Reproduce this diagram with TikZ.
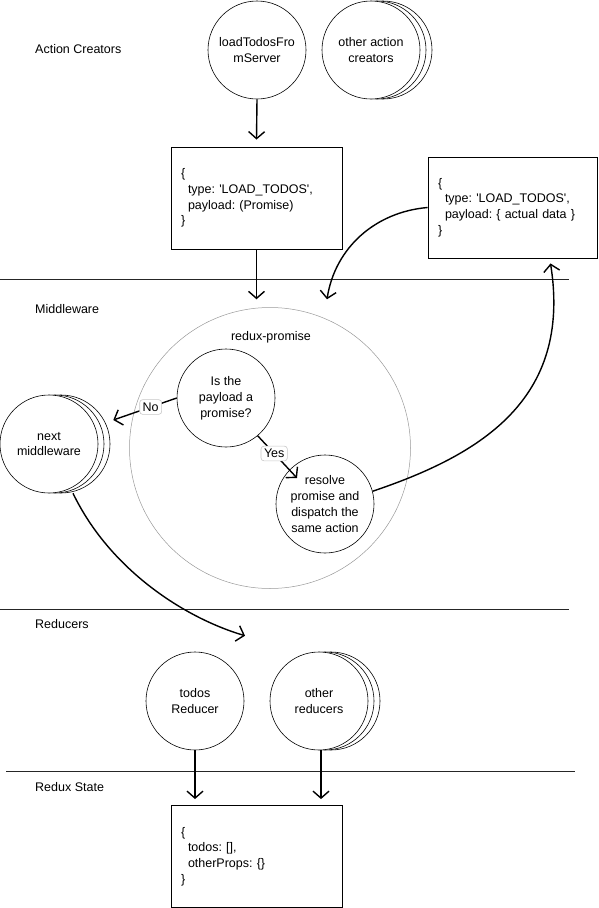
\documentclass[tikz,border=0pt]{standalone}
\usepackage{fontspec}
\setmainfont{Liberation Sans}
\usetikzlibrary{arrows.meta,shadows,calc}
\frenchspacing
\newcommand{\sq}{\textquotesingle}
\begin{document}
\begin{tikzpicture}[x=1pt,y=-1pt,
  font=\fontsize{12.5}{15.8}\selectfont,
  circ/.style={circle,draw,line width=0.6pt,minimum size=98pt,inner sep=0pt,align=center,fill=white},
  stack/.style={circ,double copy shadow={shadow xshift=6pt,shadow yshift=0pt,draw=black,fill=white,line width=0.6pt}},
  codebox/.style={draw,line width=0.9pt,minimum width=171pt,minimum height=102pt,align=left,text width=151pt,inner xsep=10pt,fill=white},
  arr/.style={line width=1.4pt,-{Straight Barb[length=7pt,width=16pt,line width=1.4pt]}},
  sep/.style={line width=0.8pt,draw=black!85},
  lbl/.style={anchor=west,inner sep=0pt},
  tag/.style={draw=black!22,rounded corners=3pt,fill=white,inner xsep=3pt,inner ysep=3pt,line width=0.6pt}
]
\useasboundingbox (0,0) rectangle (598,908);

% section labels
\node[lbl] (lac) at (35,49) {Action Creators};
\node[lbl] (lmw) at (35,309) {Middleware};
\node[lbl] (lrd) at (35,624) {Reducers};
\node[lbl] (lrs) at (35,787) {Redux State};

% separators
\draw[sep] (0,279) -- (569,279);
\draw[sep] (0,609) -- (569,609);
\draw[sep] (6,771) -- (575,771);

% redux-promise container
\node[circle,draw=black!40,line width=0.5pt,minimum size=281pt,inner sep=0pt] (rp) at (270,448) {};
\node (rpl) at (271,337) {redux-promise};

% action creators
\node[circ] (load) at (257,50) {loadTodosFro\\mServer};
\node[stack] (oac) at (371,50) {other action\\creators};

% code boxes
\node[codebox] (b1) at (256.5,198) {\{\\\hspace*{7pt}type: \sq LOAD\_TODOS\sq,\\\hspace*{7pt}payload: (Promise)\\\}\\[-6pt]};
\node[codebox,minimum width=169pt,minimum height=101pt,text width=149pt] (b2) at (512.5,207.5) {\{\\\hspace*{7pt}type: \sq LOAD\_TODOS\sq,\\\hspace*{7pt}payload: \{ actual data \}\\\}\\[-6pt]};
\node[codebox] (b3) at (256.5,856.5) {\{\\\hspace*{7pt}todos: [],\\\hspace*{7pt}otherProps: \{\}\\\}\\[-6pt]};

% middleware nodes
\node[circ] (q) at (226,398) {Is the\\payload a\\promise?};
\node[stack] (nm) at (49,444) {next\\middleware};
\node[circ] (res) at (325,504) {resolve\\promise and\\dispatch the\\same action};

% reducers
\node[circ] (todos) at (195,701) {todos\\Reducer};
\node[stack] (oth) at (319,701) {other\\reducers};

% connectors
\draw[arr] (load.south) -- ([yshift=7pt]b1.north);
\draw[arr,shorten >=8pt] (b1.south) -- (b1.south |- rp.north);
\draw[arr] (b2.west) .. controls (375,212) and (335,248) .. ([xshift=57pt,yshift=8pt]rp.north);
\draw[arr] (res.15) .. controls (480,455) and (572,400) .. ([xshift=38pt,yshift=-5pt]b2.south);
\draw[arr] (q.west) -- ([xshift=15pt,yshift=24pt]nm.east) node[tag,pos=0.41] (no) {No};
\draw[arr] (q.-50) -- ([xshift=-28pt,yshift=26pt]res.center) node[tag,pos=0.42] (yes) {Yes};
\draw[arr] ([xshift=24pt]nm.south) .. controls (110,570) and (185,618) .. ([xshift=50pt,yshift=16pt]todos.north);
\draw[arr,shorten >=6pt] (todos.south) -- (todos.south |- b3.north);
\draw[arr,shorten >=6pt] ([xshift=2pt]oth.south) -- ([xshift=2pt]oth.south |- b3.north);
\end{tikzpicture}
\end{document}
